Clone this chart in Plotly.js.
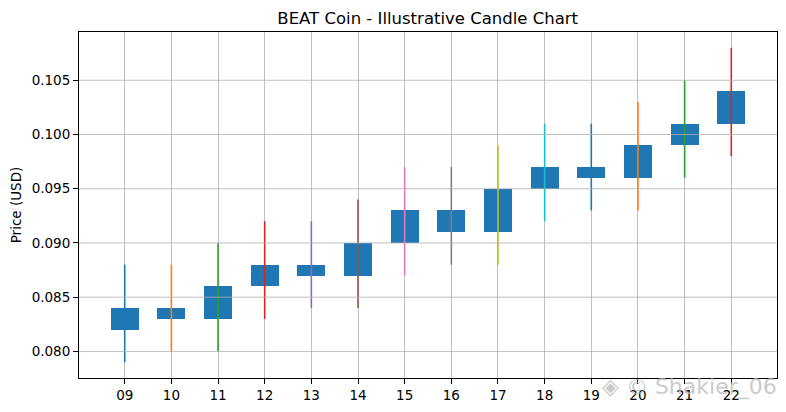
<!DOCTYPE html>
<html>
<head>
<meta charset="utf-8">
<script src="https://cdn.plot.ly/plotly-3.0.1.min.js"></script>
<style>html,body{margin:0;padding:0;background:#fff;}#chart{width:786px;height:412px;}</style>
</head>
<body>
<div id="chart"></div>
<script>
// Data
const days = ["09","10","11","12","13","14","15","16","17","18","19","20","21","22"];
const opens  = [0.082,0.083,0.083,0.086,0.087,0.087,0.090,0.091,0.091,0.095,0.096,0.096,0.099,0.101];
const closes = [0.084,0.084,0.086,0.088,0.088,0.090,0.093,0.093,0.095,0.097,0.097,0.099,0.101,0.104];
const highs  = [0.088,0.088,0.090,0.092,0.092,0.094,0.097,0.097,0.099,0.101,0.101,0.103,0.105,0.108];
const lows   = [0.079,0.080,0.080,0.083,0.084,0.084,0.087,0.088,0.088,0.092,0.093,0.093,0.096,0.098];
const yTicks = [0.080,0.085,0.090,0.095,0.100,0.105];

const tab10 = ["#1f77b4","#ff7f0e","#2ca02c","#d62728","#9467bd","#8c564b","#e377c2","#7f7f7f","#bcbd22","#17becf"];
const xIdx = days.map((d,i)=>i);

const traces = [];
traces.push({
  type:'bar', x:xIdx,
  base: opens.map((o,i)=>Math.min(o,closes[i])),
  y: opens.map((o,i)=>Math.abs(closes[i]-o)),
  width:0.6, marker:{color:'#1f77b4', line:{width:0}},
  hoverinfo:'skip', showlegend:false
});
xIdx.forEach(i=>{
  traces.push({
    type:'scatter', mode:'lines', x:[i,i], y:[lows[i],highs[i]],
    line:{color:tab10[i%10], width:1.6}, hoverinfo:'skip', showlegend:false
  });
});

const shapes = yTicks.map(v=>({
  type:'line', xref:'paper', x0:0, x1:1, yref:'y', y0:v, y1:v,
  line:{color:'#b0b0b0', width:0.8}, layer:'above'
}));

const layout = {
  width:786, height:412,
  margin:{l:79.3, r:9.3, t:32.3, b:33.7},
  paper_bgcolor:'#fff', plot_bgcolor:'#fff',
  font:{family:'DejaVu Sans', size:13.5, color:'#000'},
  title:{text:'BEAT Coin - Illustrative Candle Chart', font:{size:16.5, color:'#000'}, x:0.5442, xanchor:'center', y:0.955, yanchor:'middle'},
  bargap:0,
  xaxis:{range:[-0.98,13.98], tickvals:xIdx, ticktext:days, showgrid:true, gridcolor:'#b0b0b0', gridwidth:0.8,
    zeroline:false, showline:true, mirror:true, linecolor:'#000', linewidth:1,
    ticks:'outside', ticklen:5, tickwidth:1, tickcolor:'#000', fixedrange:true},
  yaxis:{range:[0.07755,0.10945], tickvals:yTicks, ticktext:yTicks.map(v=>v.toFixed(3)), showgrid:false,
    zeroline:false, showline:true, mirror:true, linecolor:'#000', linewidth:1,
    ticks:'outside', ticklen:5, tickwidth:1, tickcolor:'#000',
    title:{text:'Price (USD)', font:{size:13.5}, standoff:6}, fixedrange:true},
  shapes:shapes,
  annotations:[{
    xref:'paper', yref:'paper', x:1.003, y:-0.025, xanchor:'right', yanchor:'middle',
    text:'◈ © Shakier_06', showarrow:false,
    font:{family:'DejaVu Sans', size:22, color:'rgba(185,185,185,0.75)'}
  }]
};
Plotly.newPlot('chart', traces, layout, {displayModeBar:false, staticPlot:true});
</script>
</body>
</html>
